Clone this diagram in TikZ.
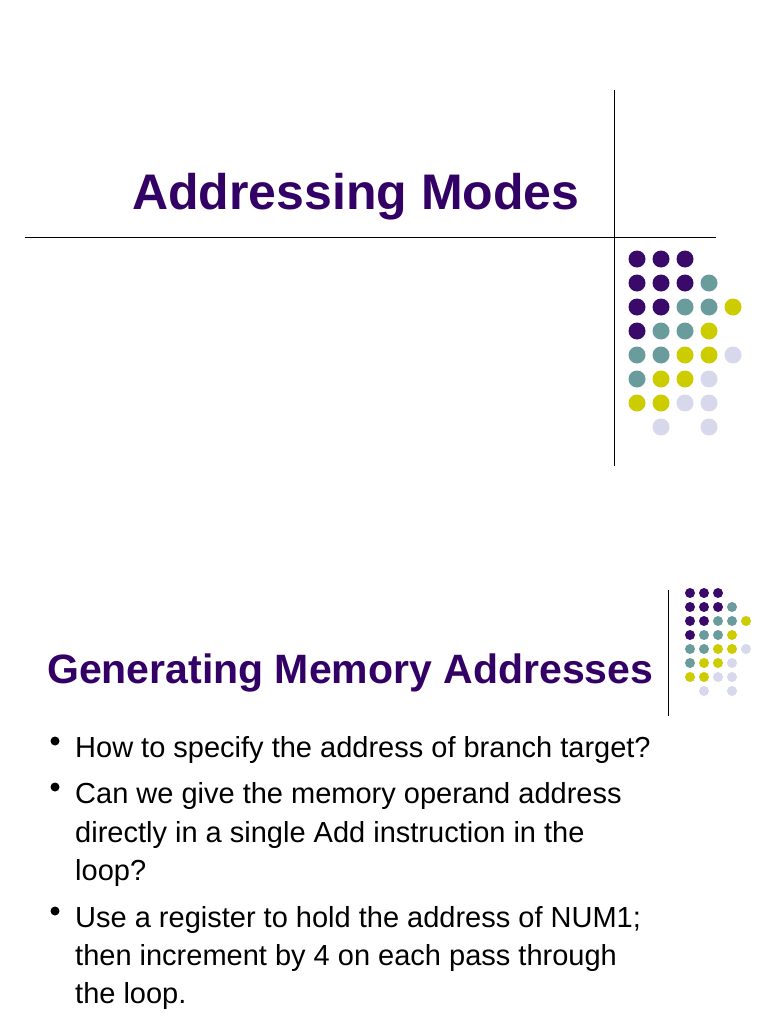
\documentclass[tikz,border=0pt]{standalone}
\usepackage{fontspec}
\setmainfont{Liberation Sans}
\definecolor{cP}{HTML}{3A0A6A}
\definecolor{cT}{HTML}{6A9C9E}
\definecolor{cY}{HTML}{CCCC00}
\definecolor{cL}{HTML}{D8D8EC}
\definecolor{ttl}{HTML}{330066}
\begin{document}
\begin{tikzpicture}[x=1pt,y=-1pt,
  ttlt/.style={anchor=base west,inner sep=0pt,text=ttl,font=\bfseries},
  bt/.style={anchor=base west,inner sep=0pt,font=\fontsize{29}{38}\selectfont},
  bul/.style={circle,fill=black,inner sep=0pt,minimum size=9pt},
  rule/.style={line width=0.8pt}]
\useasboundingbox (0,0) rectangle (768,1024);
\fill[white] (0,0) rectangle (768,1024);
% slide 1
\draw[rule] (614,90) -- (614,466);
\draw[rule] (25,237) -- (716,237);
\node[ttlt,font=\bfseries\fontsize{50}{60}\selectfont] (t1) at (132,210) {Addressing Modes};
\foreach \r/\rowlist in {0/{P,P,P},1/{P,P,P,T},2/{P,P,T,T,Y},3/{P,T,T,Y},4/{T,T,Y,Y,L},5/{T,Y,Y,L},6/{Y,Y,L,L},7/{N,L,N,L}}{
  \foreach \c [count=\i from 0] in \rowlist {
    \if\c N\else
      \fill[c\c] (637+24*\i,259+24*\r) circle (8.5);
      \fill[c\c] (690+14*\i,593+14*\r) circle (5);
    \fi
  }
}
% slide 2
\draw[rule] (668,590) -- (668,716);
\node[ttlt,font=\bfseries\fontsize{41}{50}\selectfont] (t2) at (47,683) {Generating Memory Addresses};
\node[bul] (b1) at (55,741) {};
\node[bt] (l1) at (75,757) {How to specify the address of branch target?};
\node[bul] (b2) at (55,787) {};
\node[bt] (l2) at (75,803) {Can we give the memory operand address};
\node[bt] (l3) at (75,842) {directly in a single Add instruction in the};
\node[bt] (l4) at (75,880) {loop?};
\node[bul] (b3) at (55,911) {};
\node[bt] (l5) at (75,927) {Use a register to hold the address of NUM1;};
\node[bt] (l6) at (75,965) {then increment by 4 on each pass through};
\node[bt] (l7) at (75,1003) {the loop.};
\end{tikzpicture}
\end{document}
